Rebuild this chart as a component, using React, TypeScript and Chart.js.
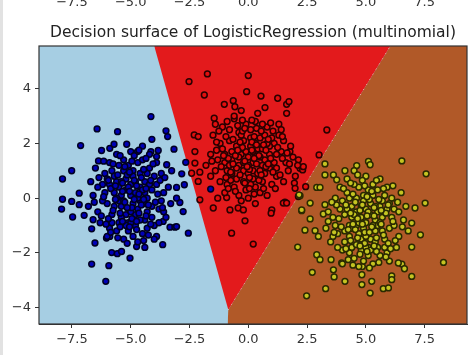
import React, { useEffect, useRef } from 'react';
import { Chart, registerables } from 'chart.js';

Chart.register(...registerables);

const chartTitle = 'Decision surface of LogisticRegression (multinomial)';
const xTickValues = [-7.5, -5, -2.5, 0, 2.5, 5, 7.5];
const xTickLabels = ['−7.5', '−5.0', '−2.5', '0.0', '2.5', '5.0', '7.5'];
const yTickValues = [-4, -2, 0, 2, 4];
const yTickLabels = ['−4', '−2', '0', '2', '4'];
const xRange = [-8.9, 9.3];
const yRange = [-4.6, 5.56];

// decision regions (class boundaries)
const blueRegion: number[][] = [[-8.9, 5.56], [9.3, 5.56]];
const redRegion: number[][] = [[-4.0, 5.56], [-0.85, -4.08], [6.04, 5.56]];
const brownRegion: number[][] = [[-0.88, -4.6], [-0.85, -4.08], [6.04, 5.56], [9.3, 5.56]];
const redBrownEdge: number[][] = [[-0.85, -4.08], [6.04, 5.56]];

const bluePoints: number[][] = [
  [-4.14, 2.98], [-6.43, 2.53], [-5.56, 2.43], [-7.13, 1.92], [-3.5, 2.46], [-3.43, 2.25], [-4.1, 2.15], [-5.17, 1.97],
  [-3.16, 1.79], [-6.24, 1.74], [-5.89, 1.82], [-5.71, 1.97], [-4.71, 1.7], [-4.14, 1.7], [-3.83, 1.74], [-3.9, 1.52],
  [-6.37, 1.36], [-7.51, 1.0], [-7.9, 0.7], [-2.66, 1.31], [-3.47, 1.22], [-3.26, 1.0], [-2.83, 0.89], [-2.72, 0.49],
  [-3.05, 0.39], [-7.19, 0.18], [-7.51, -0.12], [-7.9, -0.04], [-7.94, -0.4], [-7.47, -0.69], [-6.98, -0.63], [-7.19, -0.24],
  [-2.91, -0.16], [-2.77, -0.49], [-2.55, -1.28], [-3.62, -0.85], [-3.33, -1.06], [-3.12, -1.06], [-6.66, -1.12], [-6.6, -0.79],
  [-6.52, -1.64], [-6.03, -1.46], [-5.89, -1.4], [-5.81, -1.99], [-5.57, -2.03], [-5.39, -1.95], [-5.03, -2.19], [-4.75, -1.77],
  [-4.4, -1.8], [-3.64, -1.7], [-3.9, -1.4], [-6.66, -2.41], [-5.93, -2.47], [-6.06, -3.04], [-1.6, 0.33], [-3.05, 0.0],
  [-3.05, -1.04],
  [-5.0, 0.1], [-4.6, 0.4], [-5.4, -0.3], [-4.8, -0.6], [-5.2, 0.7], [-4.3, 0.0], [-5.7, 0.2], [-4.9, 1.0], [-5.5, -0.9], [-4.4, -0.8],
  [-6.0, -0.2], [-3.9, 0.5], [-5.1, -1.2], [-4.7, 1.3], [-6.2, 0.5], [-3.8, -0.4], [-5.8, 1.0], [-4.2, 1.1], [-5.3, 1.4], [-6.4, -0.5],
  [-4.5, -1.3], [-3.6, 0.2], [-5.9, -1.1], [-4.0, -1.0], [-6.6, 0.1], [-5.6, 0.6], [-4.9, -0.2], [-5.2, -0.6], [-4.4, 0.6], [-5.0, 0.5],
  [-4.6, -0.1], [-5.4, 0.1], [-4.1, 0.3], [-5.8, -0.6], [-6.1, 0.9], [-3.7, 0.9], [-4.8, 0.2], [-5.1, -0.9], [-4.3, -0.5], [-5.5, 0.4],
  [-6.3, -0.9], [-3.5, -0.7], [-5.3, -1.5], [-4.7, -1.6], [-4.2, 1.6], [-5.6, 1.6], [-6.7, 0.6], [-3.4, 0.4], [-4.0, -1.5], [-6.0, -1.4],
  [-5.0, 1.7], [-4.5, 1.9], [-5.9, 1.3], [-6.5, 1.1], [-3.9, 1.3], [-3.3, -0.2], [-6.8, -0.3], [-5.7, -0.3], [-4.9, 0.8], [-4.4, 0.2],
  [-5.2, 0.3], [-4.7, -0.4], [-5.5, -0.1], [-4.1, -0.3], [-5.0, -0.5], [-4.6, 0.9], [-5.3, 1.0], [-4.0, 0.8], [-5.9, 0.5], [-6.2, -0.1],
  [-3.7, -0.1], [-4.8, -1.0], [-5.6, -1.2], [-4.3, -1.1], [-5.1, 1.2], [-4.5, 1.4], [-6.1, 0.2], [-3.8, -0.9], [-5.4, -0.7], [-4.9, -1.4],
  [-5.7, 0.8], [-4.2, 0.5], [-5.0, -0.9], [-6.4, 0.4], [-4.4, -0.2], [-5.3, -0.1], [-4.8, 0.6], [-5.6, 0.0], [-4.1, -0.7], [-5.8, -0.9],
  [-4.7, 0.0], [-5.1, 0.4], [-4.3, 0.9], [-5.5, 1.2], [-4.6, -0.8], [-6.0, 0.7], [-3.6, -0.5], [-5.2, -1.0], [-4.5, 0.3], [-5.4, 0.6],
  [-5.05, 0.25], [-4.75, 0.45], [-5.25, -0.15], [-4.95, -0.35], [-5.35, 0.55], [-4.55, -0.25], [-5.65, -0.05], [-4.85, 0.65], [-5.45, -0.55], [-4.65, -0.55],
  [-5.15, 0.85], [-4.35, 0.35], [-5.85, 0.35], [-4.25, -0.25], [-5.75, -0.45], [-4.95, -0.75], [-5.25, 1.15], [-4.45, 1.05], [-5.55, 0.85], [-4.15, 0.65],
  [-5.95, -0.75], [-3.95, -0.15], [-4.75, -1.15], [-5.45, -1.05], [-6.15, 0.05], [-3.85, 0.15], [-5.05, -1.05], [-4.55, 0.75], [-5.65, 0.45], [-4.85, -0.05],
  [-5.15, -0.35], [-4.35, -0.65], [-5.35, 0.25], [-4.65, 0.15], [-5.95, 0.65], [-4.05, 1.25], [-5.75, 1.25], [-4.25, -1.35], [-6.25, -0.65], [-3.75, 0.65],
  [-4.95, 1.35], [-5.15, -1.65], [-6.35, 0.75], [-3.65, -0.35], [-4.85, 1.55], [-5.45, 1.55], [-6.05, -0.95], [-4.15, -0.95], [-5.85, -1.25], [-4.45, -1.55],
  [-5.55, -1.45], [-4.65, 1.75], [-6.55, -0.15], [-3.55, 0.75], [-6.15, 1.35], [-4.35, 1.45], [-5.05, 0.95], [-4.75, -0.85], [-5.35, -0.85], [-4.45, -0.05],
];

const redPoints: number[][] = [
  [-2.52, 4.26], [-1.74, 4.54], [0.0, 4.48], [-1.87, 3.77], [-0.07, 3.89], [0.54, 3.73], [1.25, 3.65], [1.63, 3.43],
  [1.73, 3.53], [-1.02, 3.43], [-0.64, 3.56], [-0.57, 3.34], [0.71, 3.31], [1.63, 3.1], [-1.45, 2.92], [3.34, 2.49],
  [-2.3, 2.31], [-2.13, 2.25], [3.01, 1.58], [-2.27, 1.7], [-2.27, 1.28], [-2.41, 0.91], [-2.06, 0.95], [-2.13, 0.61],
  [-2.06, -0.06], [-1.49, -0.36], [2.2, 1.09], [2.31, 1.03], [1.96, 0.55], [2.44, 0.42], [1.56, -0.15], [1.49, -0.18],
  [1.0, -0.43], [0.97, -0.55], [-0.14, -0.83], [-0.71, -1.28], [0.21, -1.68], [-0.78, -0.43], [-0.43, -0.36], [-0.21, -0.43],
  [-1.3, 0.0], [-0.92, 0.02], [1.77, 1.7], [2.13, 1.4], [2.34, 1.15], [1.99, 0.36], [2.13, 0.06], [1.63, -0.18],
  [0.0, 1.5], [0.4, 1.8], [-0.4, 1.2], [0.2, 1.0], [-0.2, 2.1], [0.7, 1.4], [-0.7, 1.7], [0.1, 2.5], [-0.5, 0.7], [0.6, 0.6],
  [-1.0, 1.3], [1.1, 2.0], [-0.1, 0.3], [0.3, 2.8], [-1.2, 2.0], [1.2, 1.1], [-0.8, 2.5], [0.8, 2.6], [0.3, 0.4], [-1.4, 1.0],
  [0.5, 0.2], [1.4, 1.7], [-0.9, 0.5], [1.0, 0.5], [-1.6, 1.6], [-0.6, 2.9], [0.1, 1.9], [-0.2, 1.0], [0.6, 1.2], [0.0, 0.9],
  [0.9, 1.6], [-0.4, 2.4], [-0.3, 1.6], [0.5, 2.2], [-1.1, 2.6], [1.3, 2.7], [0.2, 1.3], [-0.9, 1.0], [0.7, 0.9], [-0.5, 1.9],
  [-1.3, 1.4], [1.5, 0.6], [-0.3, -0.1], [0.4, 3.1], [-0.6, 3.0], [1.6, 1.3], [-1.5, 2.3], [1.8, 1.9], [0.0, 0.0], [-1.0, 0.2],
  [0.5, 1.5], [-0.7, 1.4], [0.3, 2.0], [1.1, 1.3], [-0.1, 2.7], [0.8, 0.1], [-1.2, 0.6], [1.3, 2.3], [-0.4, 0.1], [0.6, 2.7],
  [-0.8, 2.1], [0.2, 0.7], [1.0, 2.2], [-1.6, 0.8], [1.7, 1.0], [-0.2, 1.3], [0.4, 0.9], [-0.6, 0.4], [0.9, 1.9], [-0.1, 1.7],
  [0.6, 1.8], [-1.1, 1.8], [1.2, 0.8], [-0.3, 2.3], [0.3, 1.6], [-0.9, 2.8], [0.7, 2.3], [1.9, 1.5], [-0.5, 1.1], [0.1, 2.2],
  [-1.4, 2.7], [1.4, 2.5], [0.0, 1.2], [-0.7, 0.9], [0.9, 1.1], [-0.2, 0.6], [0.5, 1.0], [1.2, 1.6], [-1.0, 1.6], [0.2, 1.7],
  [-0.4, 1.5], [0.8, 2.0], [0.1, 0.5], [-0.8, 1.2], [1.5, 2.1], [2.1, 1.2], [-1.8, 1.2], [0.3, -0.2], [-0.3, 3.2], [2.0, 0.8],
  [0.15, 1.75], [0.45, 1.55], [-0.15, 1.35], [0.05, 1.05], [-0.25, 1.85], [0.65, 1.95], [-0.55, 1.55], [0.25, 2.25], [-0.35, 0.85], [0.75, 1.15],
  [-0.85, 1.45], [0.95, 1.45], [0.05, 0.75], [0.35, 2.55], [-0.95, 2.25], [1.05, 0.95], [-0.65, 2.15], [0.55, 2.45], [0.45, 0.65], [-1.15, 1.15],
  [0.25, 0.15], [1.25, 1.85], [-0.75, 0.65], [1.15, 0.35], [-1.35, 1.75], [-0.45, 2.65], [0.15, 2.05], [-0.05, 1.15], [0.85, 1.25], [-0.15, 0.55],
  [0.75, 1.75], [-0.25, 2.45], [-0.45, 1.75], [0.35, 1.25], [-1.25, 2.45], [1.05, 2.45], [0.25, 1.45], [-0.75, 0.95], [0.55, 0.85], [-0.35, 2.05],
  [-1.05, 1.55], [1.35, 0.85], [-0.55, 0.25], [0.15, 2.85], [-0.25, 2.85], [1.45, 1.45], [-1.35, 2.05], [1.65, 1.65], [0.05, 0.35], [-0.85, 0.35],
  [0.65, 0.35], [-0.95, 0.75], [1.45, 2.25], [-1.55, 1.35], [1.75, 1.25], [0.95, 2.75], [-0.65, 1.25], [0.35, 1.95], [-0.15, 2.55], [0.85, 2.15],
];

const yellowPoints: number[][] = [
  [6.53, 1.36], [7.56, 0.89], [7.52, -0.18], [5.11, 1.34], [5.18, 1.22], [4.61, 1.19], [3.26, 1.25], [3.62, 0.85],
  [4.11, 1.0], [3.76, 0.67], [2.91, 0.39], [3.05, 0.39], [2.2, 0.09], [2.63, -0.18], [3.26, -0.24], [2.27, -0.46],
  [2.63, -0.76], [3.19, -0.58], [3.4, -0.85], [2.84, -1.19], [2.98, -1.4], [2.1, -1.79], [6.95, -0.91], [7.32, -1.34],
  [6.95, -1.79], [7.09, -0.36], [8.3, -2.35], [6.53, -2.41], [6.64, -2.58], [6.38, -2.37], [6.95, -2.86], [6.1, -2.84],
  [6.1, -2.98], [5.25, -3.04], [4.83, -2.8], [4.83, -3.16], [5.18, -3.47], [5.74, -3.31], [5.96, -3.28], [4.11, -3.04],
  [3.29, -3.31], [2.48, -3.57], [2.72, -2.71], [3.62, -2.62], [3.65, -2.88], [3.97, -2.37], [2.91, -2.07], [3.05, -2.25],
  [3.52, -2.25], [4.85, -2.5], [2.16, 0.12], [2.27, -0.43], [3.26, 0.85], [2.41, -1.17],
  [5.0, -0.9], [4.6, -0.5], [5.4, -1.2], [4.8, -1.5], [5.2, -0.2], [4.3, -1.0], [5.7, -0.7], [4.9, 0.1], [5.5, -1.8], [4.4, -1.8],
  [6.0, -1.1], [3.9, -0.4], [5.1, -2.1], [4.7, 0.4], [6.2, -0.4], [3.8, -1.3], [5.8, 0.1], [4.2, 0.2], [5.3, 0.5], [6.4, -1.4],
  [4.5, -2.2], [3.6, -0.7], [5.9, -2.0], [4.0, -1.9], [6.6, -0.8], [5.6, -0.3], [4.9, -1.1], [5.2, -1.5], [4.4, -0.3], [5.0, -0.4],
  [4.6, -1.0], [5.4, -0.8], [4.1, -0.6], [5.8, -1.5], [6.1, 0.0], [3.7, 0.0], [4.8, -0.7], [5.1, -1.8], [4.3, -1.4], [5.5, -0.5],
  [6.3, -1.8], [3.5, -1.6], [5.3, -2.4], [4.7, -2.5], [4.2, 0.7], [5.6, 0.7], [6.7, -0.3], [3.4, -0.5], [4.0, -2.4], [6.0, -2.3],
  [5.0, 0.8], [4.5, 1.0], [5.9, 0.4], [6.5, 0.2], [3.9, 0.4], [3.3, -1.1], [6.8, -1.2], [5.7, -1.2], [4.9, -0.1], [4.4, -0.7],
  [5.2, -0.6], [4.7, -1.3], [5.5, -1.0], [4.1, -1.2], [5.0, -1.4], [4.6, 0.0], [5.3, 0.1], [4.0, -0.1], [5.9, -0.4], [6.2, -1.0],
  [3.7, -1.0], [4.8, -1.9], [5.6, -2.1], [4.3, -2.0], [5.1, 0.3], [4.5, 0.5], [6.1, -0.7], [3.8, -1.8], [5.4, -1.6], [4.9, -2.3],
  [5.7, -0.1], [4.2, -0.4], [5.0, -1.8], [6.4, -0.5], [4.4, -1.1], [5.3, -1.0], [4.8, -0.3], [5.6, -0.9], [4.1, -1.6], [5.8, -1.8],
  [4.7, -0.9], [5.1, -0.5], [4.3, 0.0], [5.5, 0.3], [4.6, -1.7], [6.0, -0.2], [3.6, -1.4], [5.2, -1.9], [4.5, -0.6], [5.4, -0.3],
  [5.05, -0.65], [4.75, -0.45], [5.25, -1.05], [4.95, -1.25], [5.35, -0.35], [4.55, -1.15], [5.65, -0.95], [4.85, -0.25], [5.45, -1.45], [4.65, -1.45],
  [5.15, -0.05], [4.35, -0.55], [5.85, -0.55], [4.25, -1.15], [5.75, -1.35], [4.95, -1.65], [5.25, 0.25], [4.45, 0.15], [5.55, -0.05], [4.15, -0.25],
  [5.95, -1.65], [3.95, -1.05], [4.75, -2.05], [5.45, -1.95], [6.15, -0.85], [3.85, -0.75], [5.05, -1.95], [4.55, -0.15], [5.65, -0.45], [4.85, -0.95],
  [5.15, -1.25], [4.35, -1.55], [5.35, -0.65], [4.65, -0.75], [5.95, -0.25], [4.05, 0.35], [5.75, 0.35], [4.25, -2.25], [6.25, -1.55], [3.75, -0.25],
  [4.95, 0.45], [5.15, -2.55], [6.35, -0.15], [3.65, -1.25], [4.85, 0.65], [5.45, 0.65], [6.05, -1.85], [4.15, -1.85], [5.85, -2.15], [4.45, -2.45],
  [5.55, -2.35], [4.65, 0.85], [6.55, -1.05], [3.55, -0.15], [6.15, 0.45], [4.35, 0.55], [5.05, 0.05], [4.75, -1.75], [5.35, -1.75], [4.45, -0.95],
];

const toXY = (arr: number[][]) => arr.map(([x, y]) => ({ x, y }));

const FONT = 'DejaVu Sans';
const TICK_FONT = { family: FONT, size: 13 };

const framePlugin = {
  id: 'frame',
  afterDraw(chart: any) {
    const { ctx, chartArea } = chart;
    ctx.save();
    ctx.strokeStyle = '#333';
    ctx.lineWidth = 1.2;
    ctx.strokeRect(chartArea.left, chartArea.top, chartArea.right - chartArea.left, chartArea.bottom - chartArea.top);
    ctx.restore();
  },
};

export default function App() {
  const ref = useRef<HTMLCanvasElement | null>(null);

  useEffect(() => {
    if (!ref.current) return;
    const pointDs = (label: string, data: number[][], fill: string, border: string) => ({
      type: 'scatter' as const,
      label,
      data: toXY(data),
      backgroundColor: fill,
      borderColor: border,
      pointRadius: 2.9,
      pointBorderWidth: 1.5,
      pointBackgroundColor: fill,
      pointBorderColor: border,
      showLine: false,
    });
    const regionDs = (label: string, data: number[][], color: string, fill: string) => ({
      type: 'line' as const,
      label,
      data: toXY(data),
      backgroundColor: color,
      borderColor: color,
      borderWidth: 0,
      pointRadius: 0,
      fill,
      tension: 0,
    });

    const chart = new Chart(ref.current, {
      type: 'scatter',
      data: {
        datasets: [
          pointDs('yellow', yellowPoints, '#c4c422', '#2a2a00'),
          pointDs('red', redPoints, '#e20e0e', '#2a0000'),
          pointDs('blue', bluePoints, '#0000b8', '#000022'),
          {
            type: 'line' as const,
            label: 'edge',
            data: toXY(redBrownEdge),
            borderColor: 'rgba(255,215,215,0.75)',
            borderWidth: 1,
            borderDash: [1, 5],
            pointRadius: 0,
            fill: false,
          },
          regionDs('redRegion', redRegion, '#e31a1c', 'end'),
          regionDs('brownRegion', brownRegion, '#b15928', 'start'),
          regionDs('blueRegion', blueRegion, '#a6cee3', 'start'),
        ] as any,
      },
      options: {
        responsive: false,
        animation: false,
        devicePixelRatio: 1,
        layout: { padding: { left: 0, right: 7, top: 0, bottom: 0 } },
        plugins: {
          legend: { display: false },
          tooltip: { enabled: false },
          title: {
            display: true,
            text: chartTitle,
            fullSize: false,
            weight: 1,
            color: '#222',
            font: { family: FONT, size: 15.5, weight: 'normal' },
            padding: { top: 3.7, bottom: 3.7 },
          } as any,
        },
        scales: {
          x: {
            type: 'linear',
            position: 'bottom',
            min: xRange[0],
            max: xRange[1],
            afterBuildTicks: (s: any) => { s.ticks = xTickValues.map((v) => ({ value: v })); },
            afterFit: (s: any) => { s.height = 31; },
            ticks: {
              autoSkip: false,
              maxRotation: 0,
              padding: 3.9,
              color: '#333',
              font: TICK_FONT,
              callback: (_v: any, i: number) => xTickLabels[i],
            },
            grid: { display: true, drawOnChartArea: false, drawTicks: true, tickLength: 4, color: '#333', tickWidth: 1 },
            border: { display: true, color: '#333', width: 1 },
          },
          x2: {
            type: 'linear',
            position: 'top',
            weight: 10,
            min: xRange[0],
            max: xRange[1],
            afterBuildTicks: (s: any) => { s.ticks = xTickValues.map((v) => ({ value: v })); },
            afterFit: (s: any) => { s.height = 40; },
            ticks: {
              autoSkip: false,
              maxRotation: 0,
              padding: 9.2,
              color: '#333',
              font: TICK_FONT,
              callback: (_v: any, i: number) => xTickLabels[i],
            },
            grid: { display: false, drawTicks: false },
            border: { display: false },
          },
          y: {
            type: 'linear',
            min: yRange[0],
            max: yRange[1],
            afterBuildTicks: (s: any) => { s.ticks = yTickValues.map((v) => ({ value: v })); },
            afterFit: (s: any) => { s.width = 39; },
            ticks: {
              autoSkip: false,
              padding: 4,
              color: '#333',
              font: TICK_FONT,
              callback: (_v: any, i: number) => yTickLabels[i],
            },
            grid: { display: true, drawOnChartArea: false, drawTicks: true, tickLength: 4, color: '#333', tickWidth: 1 },
            border: { display: true, color: '#333', width: 1 },
          },
        } as any,
      },
      plugins: [framePlugin],
    });
    return () => chart.destroy();
  }, []);

  return (
    <div style={{ position: 'fixed', left: 0, top: 0, width: 474, height: 355, overflow: 'hidden', background: '#fff' }}>
      <div style={{ position: 'absolute', left: 0, top: 0, width: 3, height: 355, background: '#e2e2e2' }} />
      <canvas ref={ref} width={474} height={375} style={{ position: 'absolute', left: 0, top: -20, width: 474, height: 375 }} />
    </div>
  );
}
